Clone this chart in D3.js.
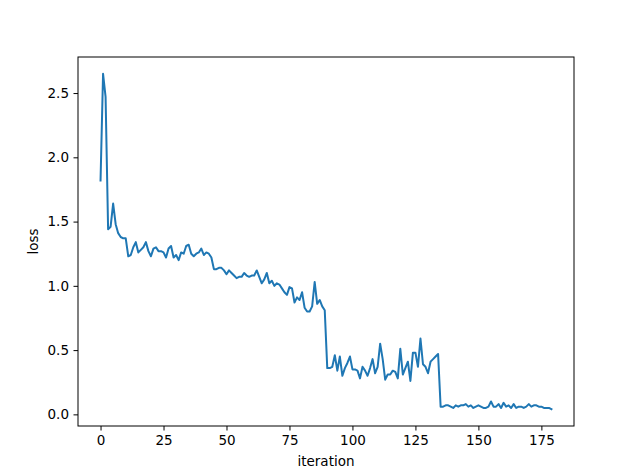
<!DOCTYPE html>
<html>
<head>
<meta charset="utf-8">
<script src="https://cdn.jsdelivr.net/npm/d3@7"></script>
<style>
  body { margin: 0; background: #fff; }
  svg { font-family: "DejaVu Sans", sans-serif; }
</style>
</head>
<body>
<div id="chart"></div>
<script>
// loss per iteration
const loss = [
  1.82, 2.65, 2.47, 1.44, 1.46, 1.64, 1.48, 1.41, 1.38, 1.37,
  1.37, 1.23, 1.24, 1.30, 1.34, 1.26, 1.28, 1.30, 1.34, 1.27,
  1.23, 1.29, 1.30, 1.27, 1.27, 1.26, 1.22, 1.29, 1.31, 1.22,
  1.24, 1.20, 1.26, 1.25, 1.31, 1.32, 1.25, 1.23, 1.25, 1.26,
  1.29, 1.24, 1.26, 1.25, 1.22, 1.13, 1.13, 1.14, 1.14, 1.12,
  1.09, 1.12, 1.10, 1.08, 1.06, 1.07, 1.07, 1.10, 1.08, 1.07,
  1.08, 1.08, 1.12, 1.07, 1.02, 1.05, 1.10, 1.02, 1.04, 1.00,
  1.02, 1.01, 0.98, 0.95, 0.93, 0.99, 0.98, 0.87, 0.91, 0.89,
  0.95, 0.83, 0.80, 0.80, 0.84, 1.03, 0.86, 0.89, 0.84, 0.81,
  0.36, 0.36, 0.37, 0.46, 0.34, 0.45, 0.30, 0.36, 0.40, 0.45,
  0.35, 0.35, 0.34, 0.28, 0.37, 0.34, 0.30, 0.36, 0.43, 0.32,
  0.37, 0.55, 0.43, 0.27, 0.31, 0.31, 0.34, 0.33, 0.28, 0.51,
  0.31, 0.36, 0.41, 0.26, 0.48, 0.48, 0.37, 0.59, 0.39, 0.37,
  0.32, 0.41, 0.43, 0.45, 0.47, 0.06, 0.06, 0.07, 0.07, 0.06,
  0.05, 0.07, 0.06, 0.07, 0.07, 0.08, 0.06, 0.07, 0.05, 0.06,
  0.07, 0.06, 0.05, 0.05, 0.06, 0.10, 0.06, 0.06, 0.08, 0.05,
  0.09, 0.06, 0.07, 0.05, 0.08, 0.05, 0.06, 0.06, 0.05, 0.06,
  0.08, 0.06, 0.07, 0.07, 0.06, 0.06, 0.05, 0.05, 0.05, 0.04
];
const iterations = loss.map((d, i) => i);
const xTicks = [0, 25, 50, 75, 100, 125, 150, 175];
const yTicks = [0.0, 0.5, 1.0, 1.5, 2.0, 2.5];

const chartWidth = 626;
const chartHeight = 471;
const margin = { top: 57, right: 52, bottom: 45, left: 78 };
const width = chartWidth - margin.left - margin.right;
const height = chartHeight - margin.top - margin.bottom;

const svg = d3.select('#chart')
  .append('svg')
  .attr('width', chartWidth)
  .attr('height', chartHeight);

const g = svg.append('g')
  .attr('transform', `translate(${margin.left},${margin.top})`);

// matplotlib-style 5% padding around the data
const xMin = d3.min(iterations), xMax = d3.max(iterations);
const yMin = d3.min(loss), yMax = d3.max(loss);
const xPad = (xMax - xMin) * 0.05;
const yPad = (yMax - yMin) * 0.05;

const xScale = d3.scaleLinear()
  .domain([xMin - xPad, xMax + xPad])
  .range([0, width]);

const yScale = d3.scaleLinear()
  .domain([yMin - yPad, yMax + yPad])
  .range([height, 0]);

const xAxis = d3.axisBottom(xScale)
  .tickValues(xTicks)
  .tickSize(4.5)
  .tickPadding(4.5)
  .tickFormat(d3.format('d'));

const yAxis = d3.axisLeft(yScale)
  .tickValues(yTicks)
  .tickSize(4.5)
  .tickPadding(4.5)
  .tickFormat(d3.format('.1f'));

const line = d3.line()
  .x((d, i) => xScale(iterations[i]))
  .y((d) => yScale(d));

g.append('path')
  .datum(loss)
  .attr('fill', 'none')
  .attr('stroke', '#1f77b4')
  .attr('stroke-width', 2)
  .attr('stroke-linejoin', 'round')
  .attr('stroke-linecap', 'square')
  .attr('d', line);

const gx = g.append('g')
  .attr('class', 'x-axis')
  .attr('transform', `translate(0,${height})`)
  .call(xAxis);

const gy = g.append('g')
  .attr('class', 'y-axis')
  .call(yAxis);

[gx, gy].forEach((ax) => {
  ax.select('.domain').remove();
  ax.selectAll('.tick line').attr('stroke', '#000').attr('stroke-width', 1);
  ax.selectAll('.tick text')
    .attr('fill', '#000')
    .style('font-size', '13.5px')
    .style('font-family', '"DejaVu Sans", sans-serif');
});

// frame
g.append('rect')
  .attr('x', 0)
  .attr('y', 0)
  .attr('width', width)
  .attr('height', height)
  .attr('fill', 'none')
  .attr('stroke', '#000')
  .attr('stroke-width', 1);

g.append('text')
  .attr('x', width / 2)
  .attr('y', height + 40)
  .attr('text-anchor', 'middle')
  .style('font-size', '13.5px')
  .text('iteration');

g.append('text')
  .attr('transform', `translate(${-40},${height / 2}) rotate(-90)`)
  .attr('text-anchor', 'middle')
  .style('font-size', '13.5px')
  .text('loss');
</script>
</body>
</html>
